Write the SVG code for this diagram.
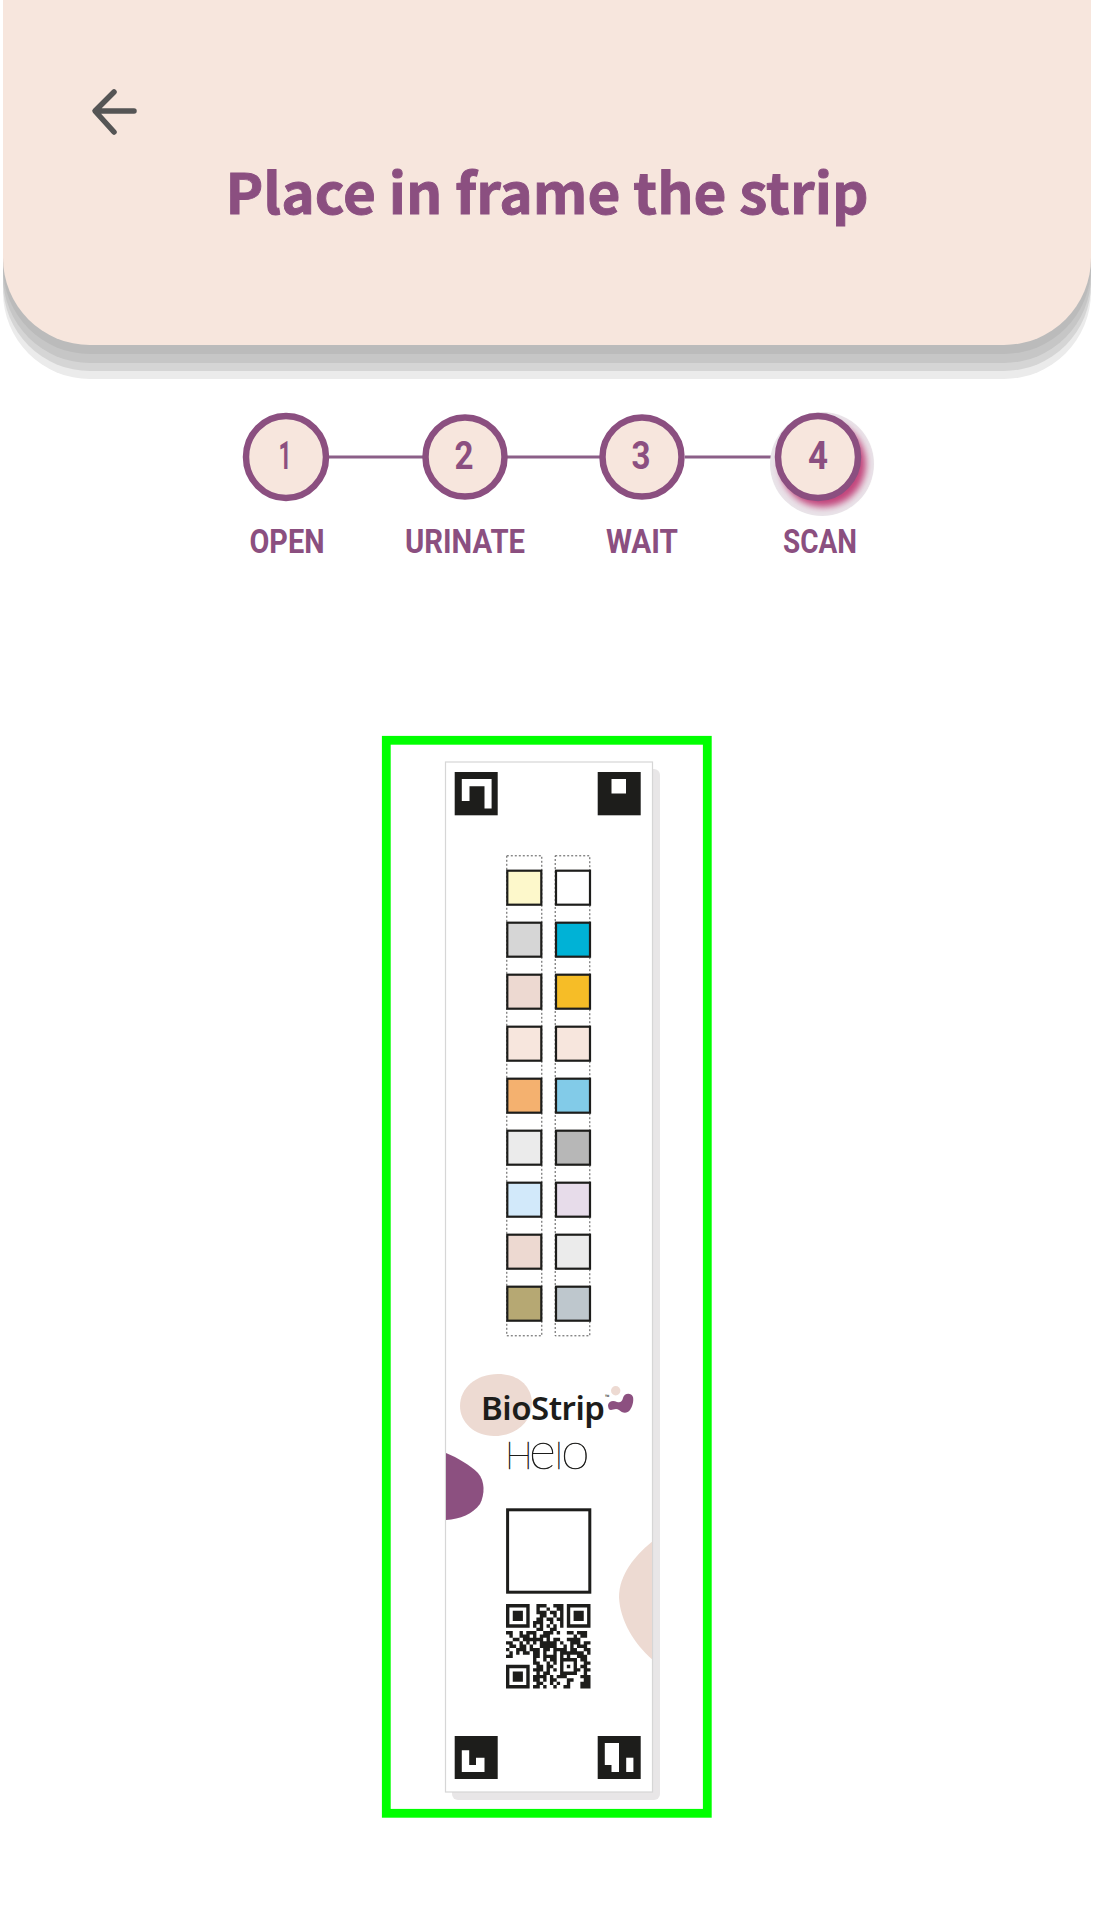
<svg xmlns="http://www.w3.org/2000/svg" xmlns:xlink="http://www.w3.org/1999/xlink" width="1094" height="1920" viewBox="0 0 1094 1920">
<style>
.num{font-family:Roboto,"Liberation Sans",sans-serif;font-weight:700;font-size:38px;fill:#8b4f80;text-anchor:middle}
.lab{font-family:Roboto,"Liberation Sans",sans-serif;font-weight:700;font-size:33px;fill:#8b4f80}
.step{fill:#f7e6dd;stroke:#8b4f80;stroke-width:6.5}
.sw{stroke:#1d1d1b;stroke-width:2.2}
.guide{fill:none;stroke:#555;stroke-width:1;stroke-dasharray:2 2}
.mk{fill:#1d1d1b}
.mw{fill:#fff}
</style>
<defs>
<filter id="blur" x="-30%" y="-30%" width="160%" height="160%"><feGaussianBlur stdDeviation="3.5"/></filter>
<clipPath id="card"><rect x="446" y="762" width="206" height="1030"/></clipPath>
<path id="finder" d="M0 .5h7M0 1.5h1M6 1.5h1M0 2.5h1M2 2.5h3M6 2.5h1M0 3.5h1M2 3.5h3M6 3.5h1M0 4.5h1M2 4.5h3M6 4.5h1M0 5.5h1M6 5.5h1M0 6.5h7" fill="none" stroke="#1d1d1b" stroke-width="1"/>
</defs>
<rect width="1094" height="1920" fill="#fff"/>
<g id="header">
<rect x="3" y="-120" width="1088" height="499" rx="87" ry="87" fill="#ebebeb"/>
<rect x="3" y="-120" width="1088" height="491" rx="87" ry="87" fill="#d5d5d5"/>
<rect x="3" y="-120" width="1088" height="483" rx="87" ry="87" fill="#c6c6c6"/>
<rect x="3" y="-120" width="1088" height="474" rx="87" ry="87" fill="#bbbbbb"/>
<rect x="3" y="-120" width="1088" height="465" rx="87" ry="87" fill="#f7e6dd"/>
<path id="back" d="M134 111H97M114 92L95 111L114 132" fill="none" stroke="#555" stroke-width="5.5" stroke-linecap="round" stroke-linejoin="round"/>
<text x="225.5" y="214" font-family="'Noto Sans CJK SC','Noto Sans',sans-serif" font-weight="700" font-size="56" fill="#8b4f80" stroke="#8b4f80" stroke-width="0.9" textLength="643" lengthAdjust="spacingAndGlyphs">Place in frame the strip</text>
</g>
<g id="connectors" stroke="#8b5f88" stroke-width="3" fill="none">
<path d="M329 457H423"/><path d="M507 457H600"/><path d="M685 457H777"/>
</g>
<g id="step1"><ellipse class="step" cx="286" cy="457" rx="40" ry="41"/><text class="num" x="285" y="469" textLength="13" lengthAdjust="spacingAndGlyphs">1</text><text class="lab" x="249.5" y="553" textLength="75" lengthAdjust="spacingAndGlyphs">OPEN</text></g>
<g id="step2"><ellipse class="step" cx="465" cy="457" rx="39.5" ry="39.5"/><text class="num" x="464" y="469" textLength="19" lengthAdjust="spacingAndGlyphs">2</text><text class="lab" x="405" y="553" textLength="120" lengthAdjust="spacingAndGlyphs">URINATE</text></g>
<g id="step3"><ellipse class="step" cx="642" cy="457" rx="39.5" ry="39.5"/><text class="num" x="641" y="469" textLength="19" lengthAdjust="spacingAndGlyphs">3</text><text class="lab" x="606" y="553" textLength="72" lengthAdjust="spacingAndGlyphs">WAIT</text></g>
<g id="step4"><circle cx="822" cy="464" r="52" fill="#e9e4e9"/><circle cx="823" cy="464" r="43" fill="#c2447c" filter="url(#blur)"/><ellipse class="step" cx="818" cy="457" rx="40" ry="41"/><text class="num" x="818" y="469" textLength="20" lengthAdjust="spacingAndGlyphs">4</text><text class="lab" x="783" y="553" textLength="74" lengthAdjust="spacingAndGlyphs">SCAN</text></g>
<g id="frame"><rect x="386.3" y="740.3" width="321" height="1073" fill="#fff" stroke="#00ff00" stroke-width="8.8"/></g>
<g id="strip">
<rect x="452" y="769" width="208" height="1031" rx="6" fill="#e8e6e7"/>
<rect x="445.5" y="762" width="207" height="1030" fill="#fff" stroke="#d6d6d6" stroke-width="1.2"/>
<g clip-path="url(#card)">
<path d="M446 1453C458 1458 470 1465 478 1473C485 1481 485 1494 480 1504C473 1514 460 1519 446 1520Z" fill="#8c5080"/>
<path d="M653 1541C635 1555 619 1575 619 1597C620 1622 636 1646 653 1660Z" fill="#eddad2"/>
</g>
<g id="markers">
<rect class="mk" x="454.7" y="772" width="43" height="43.3"/>
<path class="mw" d="M461.8 779H491.6V808.5H484.5V786.2H469.5V801H461.8Z"/>
<rect class="mk" x="597.7" y="772" width="43" height="43.3"/>
<rect class="mw" x="611.5" y="779" width="14.5" height="14.5"/>
<rect class="mk" x="454.7" y="1736" width="43" height="43"/>
<path class="mw" d="M461.8 1750.3H469.2V1765H476V1757.7H484.5V1772H461.8Z"/>
<rect class="mk" x="597.7" y="1736" width="43" height="43"/>
<path class="mw" d="M604.8 1743H619V1772H611.5V1765H604.8Z"/>
<rect class="mw" x="626.2" y="1757.7" width="7.2" height="14.3"/>
</g>
<g id="guides">
<rect class="guide" x="506.8" y="855.8" width="35" height="480"/>
<rect class="guide" x="555.2" y="855.8" width="34.6" height="480"/>
</g>
<g id="swatches">
<rect class="sw" x="507.3" y="870.7" width="34" height="34" fill="#fdf8cb"/>
<rect class="sw" x="556" y="870.7" width="34" height="34" fill="#ffffff"/>
<rect class="sw" x="507.3" y="922.7" width="34" height="34" fill="#d6d6d6"/>
<rect class="sw" x="556" y="922.7" width="34" height="34" fill="#00b2d6"/>
<rect class="sw" x="507.3" y="974.7" width="34" height="34" fill="#edd9d1"/>
<rect class="sw" x="556" y="974.7" width="34" height="34" fill="#f6bd27"/>
<rect class="sw" x="507.3" y="1026.7" width="34" height="34" fill="#f7e6dd"/>
<rect class="sw" x="556" y="1026.7" width="34" height="34" fill="#f7e6dd"/>
<rect class="sw" x="507.3" y="1078.7" width="34" height="34" fill="#f4b16f"/>
<rect class="sw" x="556" y="1078.7" width="34" height="34" fill="#82cbe8"/>
<rect class="sw" x="507.3" y="1130.7" width="34" height="34" fill="#ebebeb"/>
<rect class="sw" x="556" y="1130.7" width="34" height="34" fill="#b7b7b7"/>
<rect class="sw" x="507.3" y="1182.7" width="34" height="34" fill="#d2e9fa"/>
<rect class="sw" x="556" y="1182.7" width="34" height="34" fill="#e7dcea"/>
<rect class="sw" x="507.3" y="1234.7" width="34" height="34" fill="#edd9d1"/>
<rect class="sw" x="556" y="1234.7" width="34" height="34" fill="#ebebeb"/>
<rect class="sw" x="507.3" y="1286.7" width="34" height="34" fill="#b6a873"/>
<rect class="sw" x="556" y="1286.7" width="34" height="34" fill="#bec7cd"/>
</g>
<g id="logo">
<path d="M460 1406C460 1388 476 1374 498 1374C518 1374 532 1386 532 1404C531 1424 514 1436 494 1436C474 1436 460 1422 460 1406Z" fill="#eddad2"/>
<circle cx="615.7" cy="1390.7" r="4.7" fill="#eddad2"/>
<path d="M608 1405C609 1401 613 1400 617 1402C620 1403 622 1402 623 1398C624 1393 631 1392 633 1397C634 1402 632 1407 630 1410C627 1414 622 1413 619 1410C616 1408 613 1410 611 1410C609 1410 608 1408 608 1405Z" fill="#8c5080"/>
<text x="481" y="1420" font-family="'Noto Sans','Liberation Sans',sans-serif" font-weight="600" font-size="33" fill="#1d1d1b" textLength="124" lengthAdjust="spacing">BioStrip</text>
<text x="605" y="1399" font-family="'Noto Sans',sans-serif" font-size="6" fill="#1d1d1b">™</text>
<text font-family="Lato,'Noto Sans',sans-serif" font-weight="100" fill="#1d1d1b" stroke="#1d1d1b" stroke-width="0.6"><tspan x="505" y="1469" font-size="37">H</tspan><tspan x="529" y="1469" font-size="52">e</tspan><tspan x="555" y="1469" font-size="37">l</tspan><tspan x="561" y="1469" font-size="52">o</tspan></text>
</g>
<g id="blank-square"><rect x="507.6" y="1509.8" width="82.2" height="82.4" fill="#fff" stroke="#1d1d1b" stroke-width="3"/></g>
<g id="qr" transform="translate(506 1604) scale(3.38)">
<use xlink:href="#finder" href="#finder"/><use xlink:href="#finder" href="#finder" x="18"/><use xlink:href="#finder" href="#finder" y="18"/>
<path fill="none" stroke="#1d1d1b" stroke-width="1" d="M9 .5h3M14 .5h3M9 1.5h1M12 1.5h1M15 1.5h2M9 2.5h3M13 2.5h2M16 2.5h1M10 3.5h2M14 3.5h1M16 3.5h1M9 4.5h2M12 4.5h2M15 4.5h2M8 5.5h3M13 5.5h1M16 5.5h1M8 6.5h1M10 6.5h1M12 6.5h1M14 6.5h1M16 6.5h1M9 7.5h2M13 7.5h2M0 8.5h2M4 8.5h1M6 8.5h3M11 8.5h3M15 8.5h1M18 8.5h2M21 8.5h3M1 9.5h1M4 9.5h3M8 9.5h1M10 9.5h3M20 9.5h1M22 9.5h2M2 10.5h2M5 10.5h2M7 10.5h4M12 10.5h1M14 10.5h2M18 10.5h4M0 11.5h2M4 11.5h1M6 11.5h1M8 11.5h1M10 11.5h5M16 11.5h1M19 11.5h3M23 11.5h2M1 12.5h2M4 12.5h2M7 12.5h1M10 12.5h5M17 12.5h1M19 12.5h1M21 12.5h3M0 13.5h1M3 13.5h3M7 13.5h3M11 13.5h2M14 13.5h4M19 13.5h2M23 13.5h2M1 14.5h1M3 14.5h1M5 14.5h2M8 14.5h2M11 14.5h1M14 14.5h1M16 14.5h2M18 14.5h5M24 14.5h1M0 15.5h2M8 15.5h2M11 15.5h4M16 15.5h1M18 15.5h1M21 15.5h3M8 16.5h1M11 16.5h1M13 16.5h2M16 16.5h5M22 16.5h2M8 17.5h2M12 17.5h1M14 17.5h1M16 17.5h1M20 17.5h1M23 17.5h2M9 18.5h2M12 18.5h2M16 18.5h1M18 18.5h1M20 18.5h1M22 18.5h2M8 19.5h3M12 19.5h1M14 19.5h1M16 19.5h1M20 19.5h2M23 19.5h2M9 20.5h1M11 20.5h2M16 20.5h5M23 20.5h1M8 21.5h4M13 21.5h1M15 21.5h3M22 21.5h3M8 22.5h2M11 22.5h1M13 22.5h2M18 22.5h2M23 22.5h2M9 23.5h2M13 23.5h1M15 23.5h1M18 23.5h1M22 23.5h3M8 24.5h2M11 24.5h1M14 24.5h1M17 24.5h2M22 24.5h3"/>
</g>
</g>
</svg>
